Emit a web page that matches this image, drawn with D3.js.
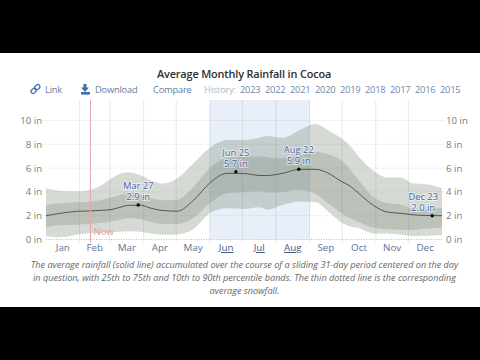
<!DOCTYPE html>
<html><head><meta charset="utf-8">
<script src="https://cdn.jsdelivr.net/npm/d3@7"></script>
<style>
html,body{margin:0;padding:0;background:#000;overflow:hidden}
svg{display:block}
text{font-family:"Open Sans","Noto Sans",sans-serif}
</style></head><body>
<svg id="c" width="480" height="360"></svg>
<script>
const months=["Jan","Feb","Mar","Apr","May","Jun","Jul","Aug","Sep","Oct","Nov","Dec"];
const monthStarts=[0,31,59,90,120,151,181,212,243,273,304,334,365];
const yTicks=[0,2,4,6,8,10];
const historyYears=["2023","2022","2021","2020","2019","2018","2017","2016","2015"];
const days=[0,13,29,40,50,59,68,76,87,96,108,121,136,151,167,182,197,204,218,234,248,262,271,281,288,302,315,327,338,350,365];
const p10=[.3,.18,.43,.52,.55,.6,.65,.7,.65,.5,.4,.42,.88,2.2,2.62,2.56,2.7,2.5,2.9,3.2,3.15,2.2,1.5,1.1,.96,.5,.5,.4,.3,.32,.38];
const p25=[1,1.2,1.25,1.3,1.4,1.5,1.65,1.78,1.7,1.5,1.3,1.3,1.83,3.04,3.88,4,4.05,3.95,4,4.16,3.85,2.9,2.3,1.75,1.5,.98,.86,.82,.8,.9,1];
const p50=[2,2.2,2.37,2.4,2.45,2.5,2.7,2.87,2.88,2.65,2.43,2.38,3.3,4.75,5.56,5.55,5.38,5.38,5.56,5.9,5.9,5.48,4.95,4.44,3.9,2.85,2.3,2.2,2.08,2.02,2];
const p75=[2.9,3.04,3.12,3.18,3.3,3.5,3.75,3.9,3.8,3.5,3.3,3.35,4.44,6,6.85,6.95,7,6.9,6.8,7.04,7.38,7.1,6.75,5.84,5,3.55,3.04,2.95,2.6,2.55,2.65];
const p90=[4.3,4.1,4.05,4.15,4.5,5.05,5.5,5.65,5.4,5,4.7,5.14,6.4,7.7,8.36,8.36,8.55,8.7,8.55,9.2,9.7,9.06,8.6,7.8,7,5.75,5.2,5.2,4.7,4.65,4.3];
const markerDates=["Mar 27","Jun 25","Aug 22","Dec 23"];
const markerDays=[85,175,233,356];
const markerValues=[2.9,5.7,5.9,2.0];
const nowDay=41;
const caption=["The average rainfall (solid line) accumulated over the course of a sliding 31-day period centered on the day","in question, with 25th to 75th and 10th to 90th percentile bands. The thin dotted line is the corresponding","average snowfall."];

const svg=d3.select("#c");
svg.append("rect").attr("y",53).attr("width",480).attr("height",254).attr("fill","#fff");
const x=d3.scaleLinear().domain([0,365]).range([46,442]);
const y=d3.scaleLinear().domain([0,10]).range([239.5,120.5]);
const plotTop=100;

// header
svg.append("text").attr("x",244).attr("y",77.5).attr("text-anchor","middle").attr("font-size",10.9).attr("font-weight",600).attr("letter-spacing",-.15).attr("fill","#2f2f2f").text("Average Monthly Rainfall in Cocoa");
const hdr=svg.append("g").attr("font-size",9.3).attr("letter-spacing",-.2).attr("fill","#5f7fa5");
hdr.append("text").attr("x",45).attr("y",92.5).text("Link");
hdr.append("text").attr("x",95).attr("y",92.5).text("Download");
hdr.append("text").attr("x",153).attr("y",92.5).text("Compare");
hdr.append("text").attr("x",204).attr("y",92.5).attr("fill","#b4b8bc").text("History:");
hdr.selectAll(".yr").data(historyYears).join("text").attr("class","yr").attr("x",(d,i)=>240+i*25).attr("y",92.5).attr("fill","#6d88a8").text(d=>d);
// icons
const ic=svg.append("g").attr("fill","none").attr("stroke","#3f6fa8");
ic.append("g").attr("transform","translate(35.5,89) rotate(-45)").attr("stroke-width",1.3).selectAll("rect").data([-5.5,-.5]).join("rect").attr("x",d=>d).attr("y",-2).attr("width",6).attr("height",4).attr("rx",2);
const dl=svg.append("g").attr("fill","#3f6fa8");
dl.append("path").attr("d","M83.5 84h3v3.5h2.5L85 92l-4-4.5h2.5z");
dl.append("rect").attr("x",81).attr("y",92).attr("width",9).attr("height",2.6);

// highlight
svg.append("rect").attr("x",x(monthStarts[5])).attr("y",plotTop).attr("width",x(monthStarts[8])-x(monthStarts[5])).attr("height",y(0)-plotTop).attr("fill","#e8eff8");

// grid
svg.append("g").selectAll("line").data(yTicks.slice(1)).join("line").attr("x1",x(0)-3).attr("x2",x(365)+3).attr("y1",d=>y(d)).attr("y2",d=>y(d)).attr("stroke","#000").attr("stroke-opacity",.05);
svg.append("g").selectAll("line").data(monthStarts.slice(1,12)).join("line").attr("x1",d=>x(d)).attr("x2",d=>x(d)).attr("y1",plotTop).attr("y2",y(0)+3).attr("stroke","#000").attr("stroke-opacity",.09);
svg.append("line").attr("x1",x(0)).attr("x2",x(365)).attr("y1",y(0)).attr("y2",y(0)).attr("stroke","#bbb").attr("stroke-dasharray","1,1.5");

// bands
const band=(lo,hi)=>d3.area().x((d,i)=>x(days[i])).y0((d,i)=>y(lo[i])).y1((d,i)=>y(hi[i])).curve(d3.curveMonotoneX)(days);
svg.append("path").attr("d",band(p10,p90)).attr("fill","#53654f").attr("fill-opacity",.24);
svg.append("path").attr("d",band(p25,p75)).attr("fill","#53654f").attr("fill-opacity",.2);
svg.append("path").attr("d",d3.line().x((d,i)=>x(days[i])).y((d,i)=>y(p50[i])).curve(d3.curveMonotoneX)(days)).attr("fill","none").attr("stroke","#4d5a4b").attr("stroke-width",1);

// now
svg.append("line").attr("x1",x(nowDay)).attr("x2",x(nowDay)).attr("y1",plotTop).attr("y2",y(0)+3).attr("stroke","#e2a9ab").attr("stroke-width",1);
svg.append("text").attr("x",x(nowDay)+3).attr("y",235).attr("font-size",9.6).attr("fill","#e89c98").text("Now");

// axes labels
const yl=svg.append("g").attr("font-size",9.7).attr("fill","#7b7b7b");
yl.selectAll(".l").data(yTicks).join("text").attr("class","l").attr("x",x(0)-3.8).attr("y",d=>y(d)+3.5).attr("text-anchor","end").text(d=>d+" in");
yl.selectAll(".r").data(yTicks).join("text").attr("class","r").attr("x",x(365)+4).attr("y",d=>y(d)+3.5).text(d=>d+" in");
svg.append("g").selectAll("text").data(months).join("text").attr("x",(d,i)=>x((monthStarts[i]+monthStarts[i+1])/2)).attr("y",251).attr("text-anchor","middle").attr("font-size",9.8)
 .attr("fill",(d,i)=>i>=5&&i<=7?"#46597d":"#5d7299").attr("text-decoration",(d,i)=>i>=5&&i<=7?"underline":null).text(d=>d);

// markers
svg.append("g").selectAll("circle").data(markerDays).join("circle").attr("cx",d=>x(d)).attr("cy",(d,i)=>y(markerValues[i])).attr("r",1.7).attr("fill","#000");
const ann=svg.append("g").attr("font-size",9.4).attr("text-anchor","middle").attr("fill","#4a64a5").attr("stroke","#fff").attr("stroke-opacity",.55).attr("stroke-width",2).attr("stroke-linejoin","round").style("paint-order","stroke");
markerDays.forEach((d,i)=>{
  const cx=i===3?x(d)-9:x(d), cy=y(markerValues[i]);
  [[markerDates[i],-16],[markerValues[i].toFixed(1)+" in",-4.8]].forEach(([t,dy])=>{
    ann.append("text").attr("x",cx).attr("y",cy+dy).text(t);
  });
});

// caption
svg.append("g").selectAll("text").data(caption).join("text").attr("x",244.5).attr("y",(d,i)=>267.5+i*13).attr("text-anchor","middle").attr("font-size",9.1).attr("font-style","italic").attr("fill","#666").text(d=>d);
</script>
</body></html>
